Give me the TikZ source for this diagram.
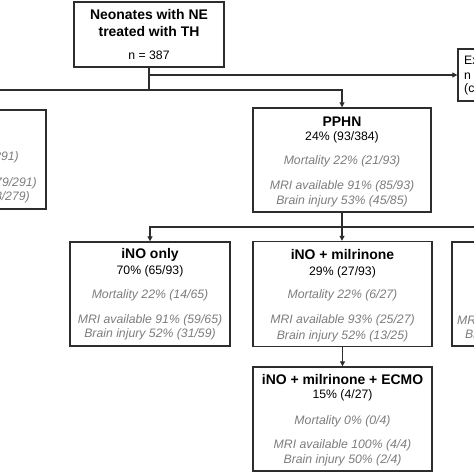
\documentclass[tikz,border=0pt]{standalone}
\usepackage{fontspec}
\setmainfont{Liberation Sans}
\usetikzlibrary{arrows.meta}
\definecolor{linec}{RGB}{45,45,45}
\definecolor{graytxt}{RGB}{125,125,125}
\begin{document}
\begin{tikzpicture}[x=1bp,y=-1bp,
 box/.style={draw=linec, line width=1.4bp, rectangle, inner sep=0pt},
 ttl/.style={font=\fontsize{14}{16}\selectfont\bfseries, text=black, inner sep=0pt},
 txt/.style={font=\fontsize{12.3}{14}\selectfont, text=black, inner sep=0pt},
 itx/.style={font=\fontsize{12.3}{14}\selectfont\itshape, text=graytxt, inner sep=0pt},
 conn/.style={draw=linec, line width=1.2bp},
 arr/.style={conn, -{Triangle[width=5bp,length=5bp]}}]
\useasboundingbox (0,0) rectangle (474,474);
\fill[white] (0,0) rectangle (474,474);
\clip (0,0) rectangle (474,474);

% boxes
\node[box, minimum width=150bp, minimum height=65bp] (top) at (149,34.5) {};
\node[box, minimum width=176bp, minimum height=99bp] (left) at (-42,159.5) {};
\node[box, minimum width=102bp, minimum height=52bp] (excl) at (509,75) {};
\node[box, minimum width=178bp, minimum height=104bp] (pphn) at (342,160) {};
\node[box, minimum width=160bp, minimum height=104bp] (ino) at (150,294) {};
\node[box, minimum width=179bp, minimum height=105bp] (milr) at (342.5,294) {};
\node[box, minimum width=180bp, minimum height=104bp] (right) at (542,294) {};
\node[box, minimum width=179bp, minimum height=104bp] (ecmo) at (342.5,419) {};

% top box text
\node[ttl] (top1) at (149,15) {Neonates with NE};
\node[ttl] (top2) at (149,32) {treated with TH};
\node[txt] (top3) at (149,55) {n = 387};

% left box text (cut off by the picture edge)
\node[itx, anchor=east] (l1) at (19,157) {Mortality 10\% (29/291)};
\node[itx, anchor=east] (l2) at (37,183) {MRI available 96\% (279/291)};
\node[itx, anchor=east] (l3) at (30,197) {Brain injury 46\% (128/279)};

% excluded box text
\node[txt, anchor=west] (e1) at (464,60) {Excluded};
\node[txt, anchor=west] (e2) at (464,75) {n = 3};
\node[txt, anchor=west] (e3) at (464,89) {(congenital)};

% PPHN
\node[ttl] (p1) at (342,122) {PPHN};
\node[txt] (p2) at (342,137) {24\% (93/384)};
\node[itx] (p3) at (342,161) {Mortality 22\% (21/93)};
\node[itx] (p4) at (342,186) {MRI available 91\% (85/93)};
\node[itx] (p5) at (342,201) {Brain injury 53\% (45/85)};

% iNO only
\node[ttl] (i1) at (150,255) {iNO only};
\node[txt] (i2) at (150,271) {70\% (65/93)};
\node[itx] (i3) at (150,295) {Mortality 22\% (14/65)};
\node[itx] (i4) at (150,320) {MRI available 91\% (59/65)};
\node[itx] (i5) at (150,334) {Brain injury 52\% (31/59)};

% iNO + milrinone
\node[ttl] (m1) at (342.5,255) {iNO + milrinone};
\node[txt] (m2) at (342.5,272) {29\% (27/93)};
\node[itx] (m3) at (342.5,295) {Mortality 22\% (6/27)};
\node[itx] (m4) at (342.5,320) {MRI available 93\% (25/27)};
\node[itx] (m5) at (342.5,336) {Brain injury 52\% (13/25)};

% right box text (cut off)
\node[itx, anchor=west] (r1) at (457,320) {MRI available};
\node[itx, anchor=west] (r2) at (465,335) {Brain injury};

% ECMO
\node[ttl] (c1) at (342.5,380) {iNO + milrinone + ECMO};
\node[txt] (c2) at (342.5,395) {15\% (4/27)};
\node[itx] (c3) at (342.5,421) {Mortality 0\% (0/4)};
\node[itx] (c4) at (342.5,445) {MRI available 100\% (4/4)};
\node[itx] (c5) at (342.5,460) {Brain injury 50\% (2/4)};

% connectors
\coordinate (j1) at (149,75);
\coordinate (j2) at (149,90);
\coordinate (j3) at (342,227);
\draw[conn] (top.south) -- (j2);
\draw[arr] (j1) -- (excl.west);
\draw[arr] (j2) -| (pphn.north);
\draw[arr] (j2) -| (left.north);
\draw[conn] (pphn.south) -- (j3);
\draw[arr] (j3) -| (ino.north);
\draw[arr] (j3) -- (j3 |- milr.north);
\draw[arr] (j3) -| (right.north);
\draw[arr] (milr.south) -- (ecmo.north);
\end{tikzpicture}
\end{document}
